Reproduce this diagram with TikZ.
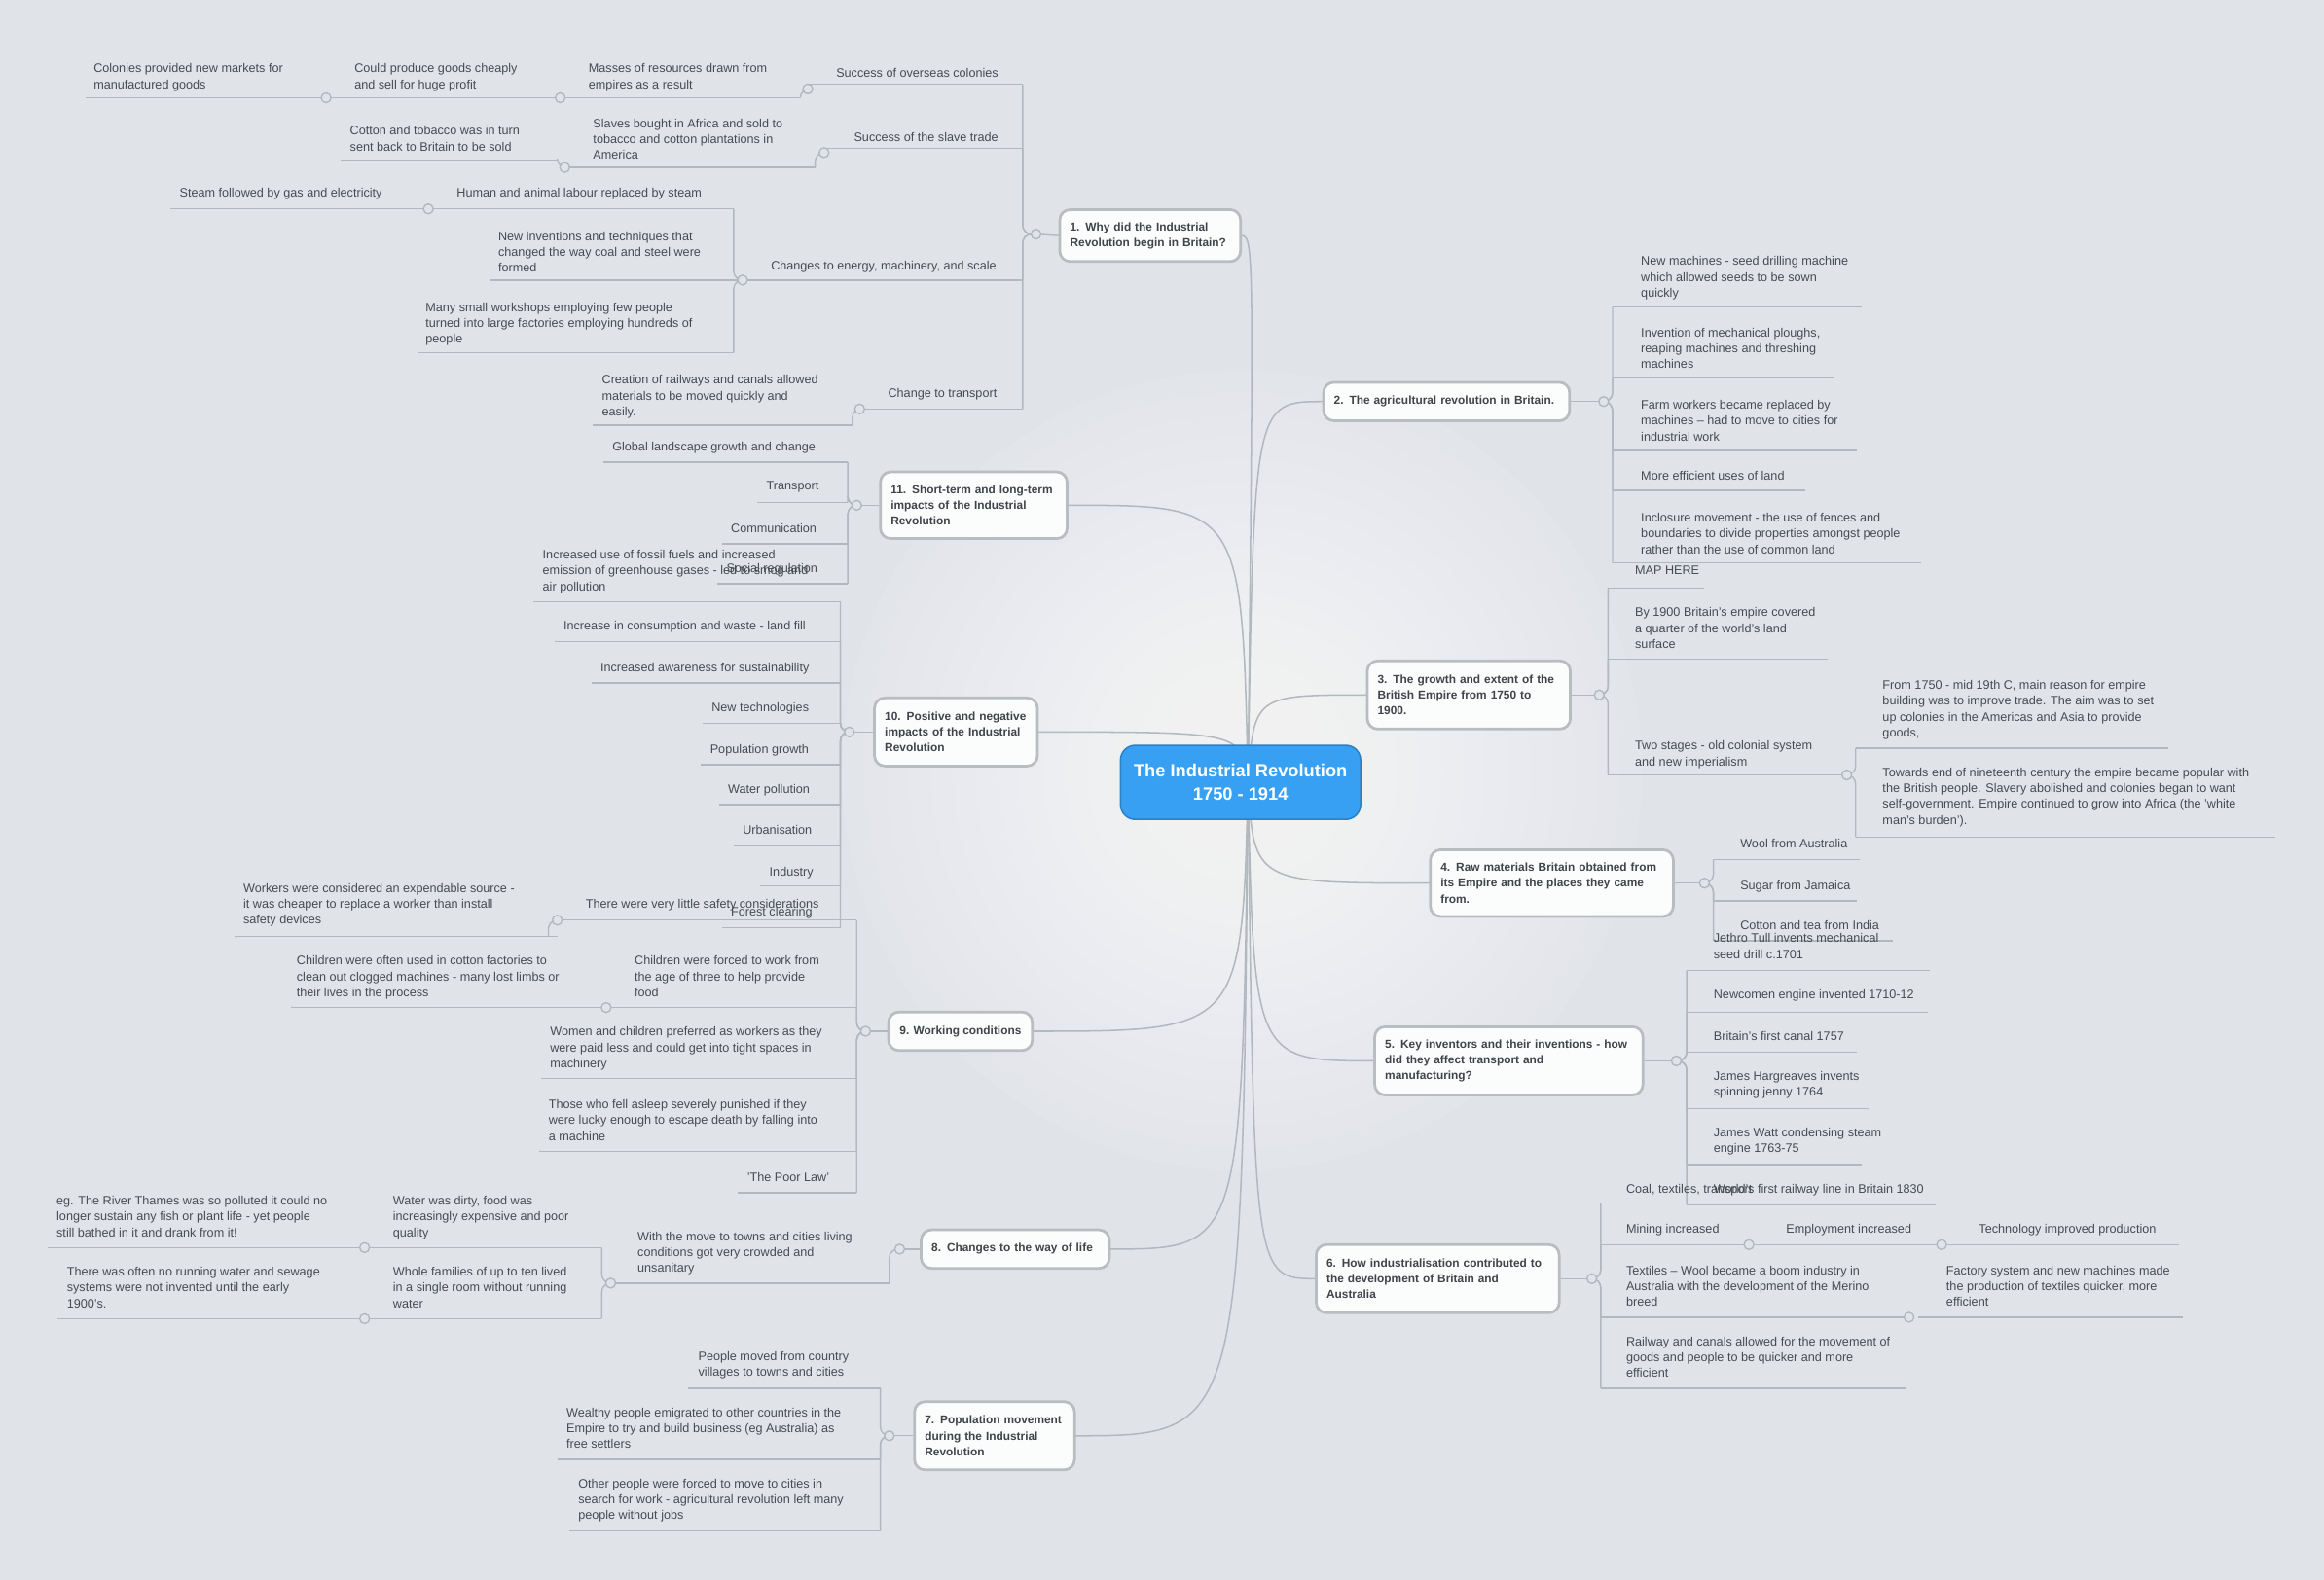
\documentclass[tikz,border=0pt]{standalone}
\usepackage{fontspec}
\setmainfont{Liberation Sans}
\definecolor{bg}{HTML}{E0E4E9}
\definecolor{ln}{HTML}{B3B8BE}
\definecolor{tx}{HTML}{474C52}
\definecolor{tb}{HTML}{B9BDC2}
\definecolor{cb}{HTML}{38A0F2}
\tikzset{
 leaf/.style={anchor=north west,inner sep=0pt,align=left,text=tx,font=\fontsize{8.3}{10.7}\selectfont},
 lnst/.style={draw=ln,line width=0.9pt},
 conn/.style={draw=ln,line width=0.9pt,rounded corners=6pt},
 main/.style={draw=ln,line width=1pt},
 topic/.style={draw=tb,line width=1.8pt,fill=white!70!bg!40!white,rounded corners=7pt,align=left,text=tx!90!black,font=\bfseries\fontsize{7.8}{10.7}\selectfont,inner sep=0pt},
 jn/.style={draw=ln,fill=bg,line width=0.9pt}
}
\newcommand\lf[6]{\node[leaf] at (#1,#2-2) {#3}; \draw[lnst] (#4,#6) -- (#5,#6);}
\newcommand\jn[2]{\draw[jn] (#1,#2) circle (3.3);}
\newcommand\cn[4]{\draw[conn] (#1,#2) -| (#3,#4);}
\begin{document}
\begin{tikzpicture}[x=1pt,y=-1pt]
\fill[bg] (0,0) rectangle (1568,1066);
\useasboundingbox (0,0) rectangle (1568,1066);
\foreach \r in {270,255,...,15} {\fill[white,opacity=0.07] (838,520) circle (\r);}
% main connectors
\coordinate (c) at (842,528);
\foreach \tx/\ty in {837/159,893/271,923/469,965/596,928/716,888/863}
  {\draw[main] (c) .. controls (846,\ty) .. (\tx,\ty);}
\foreach \tx/\ty in {720/341,700/494,697/696,749/843,725/969}
  {\draw[main] (c) .. controls (838,\ty) .. (\tx,\ty);}
% center
\node[draw=cb!80!black,line width=1pt,fill=cb,rounded corners=10pt,minimum width=162pt,minimum height=50pt,text=white,align=center,font=\bfseries\fontsize{12}{15.5}\selectfont] (center) at (837,528) {The Industrial Revolution\\1750 - 1914};
% topics
\node[topic,minimum width=122pt,minimum height=35pt,text width=108pt] (t1) at (776,159) {1. Why did the Industrial\\Revolution begin in Britain?};
\node[topic,minimum width=166pt,minimum height=26pt,text width=152pt] (t2) at (976,271) {2. The agricultural revolution in Britain.};
\node[topic,minimum width=137pt,minimum height=46pt,text width=123pt] (t3) at (991,469) {3. The growth and extent of the\\British Empire from 1750 to\\1900.};
\node[topic,minimum width=164pt,minimum height=45pt,text width=150pt] (t4) at (1047,596) {4. Raw materials Britain obtained from\\its Empire and the places they came\\from.};
\node[topic,minimum width=181pt,minimum height=46pt,text width=167pt] (t5) at (1018,716) {5. Key inventors and their inventions - how\\did they affect transport and\\manufacturing?};
\node[topic,minimum width=164pt,minimum height=46pt,text width=150pt] (t6) at (970,863) {6. How industrialisation contributed to\\the development of Britain and\\Australia};
\node[topic,minimum width=108pt,minimum height=46pt,text width=94pt] (t7) at (671,969) {7. Population movement\\during the Industrial\\Revolution};
\node[topic,minimum width=127pt,minimum height=26pt,text width=113pt] (t8) at (685,843) {8. Changes to the way of life};
\node[topic,minimum width=97pt,minimum height=26pt,align=center] (t9) at (648,696) {9. Working conditions};
\node[topic,minimum width=110pt,minimum height=46pt,text width=96pt] (t10) at (645,494) {10. Positive and negative\\impacts of the Industrial\\Revolution};
\node[topic,minimum width=126pt,minimum height=45pt,text width=112pt] (t11) at (657,341) {11. Short-term and long-term\\impacts of the Industrial\\Revolution};
% ---- topic 1
\draw[lnst] (t1.west) -- (699,158);
\cn{699}{158}{690}{57} \cn{699}{158}{690}{100} \cn{699}{158}{690}{189} \cn{699}{158}{690}{276}
\lf{564}{48}{Success of overseas colonies}{545}{690}{57}
\cn{545}{60}{540}{66}
\lf{397}{45}{Masses of resources drawn from\\empires as a result}{378}{540}{66}
\lf{239}{45}{Could produce goods cheaply\\and sell for huge profit}{220}{378}{66}
\lf{63}{45}{Colonies provided new markets for\\manufactured goods}{58}{220}{66}
\jn{545}{60}\jn{378}{66}\jn{220}{66}
\lf{576}{91}{Success of the slave trade}{556}{690}{100}
\cn{556}{103}{550}{113}
\lf{400}{82}{Slaves bought in Africa and sold to\\tobacco and cotton plantations in\\America}{381}{550}{113}
\cn{381}{113}{376}{108}
\lf{236}{87}{Cotton and tobacco was in turn\\sent back to Britain to be sold}{230}{376}{108}
\jn{556}{103}\jn{381}{113}
\lf{520}{178}{Changes to energy, machinery, and scale}{501}{690}{189}
\cn{501}{189}{495}{141}\cn{501}{189}{495}{238}
\lf{308}{129}{Human and animal labour replaced by steam}{289}{495}{141}
\lf{121}{129}{Steam followed by gas and electricity}{115}{289}{141}
\lf{336}{158}{New inventions and techniques that\\changed the way coal and steel were\\formed}{330}{501}{189}
\lf{287}{206}{Many small workshops employing few people\\turned into large factories employing hundreds of\\people}{282}{495}{238}
\jn{501}{189}\jn{289}{141}
\lf{599}{264}{Change to transport}{580}{690}{276}
\cn{580}{276}{575}{287}
\lf{406}{255}{Creation of railways and canals allowed\\materials to be moved quickly and\\easily.}{400}{575}{287}
\jn{580}{276}\jn{699}{158}
% ---- topic 2
\draw[lnst] (t2.east) -- (1082,271);
\foreach \y in {207,255,304,331,380} {\cn{1082}{271}{1088}{\y}}
\lf{1107}{175}{New machines - seed drilling machine\\which allowed seeds to be sown\\quickly}{1088}{1256}{207}
\lf{1107}{223}{Invention of mechanical ploughs,\\reaping machines and threshing\\machines}{1088}{1237}{255}
\lf{1107}{272}{Farm workers became replaced by\\machines -- had to move to cities for\\industrial work}{1088}{1253}{304}
\lf{1107}{320}{More efficient uses of land}{1088}{1218}{331}
\lf{1107}{348}{Inclosure movement - the use of fences and\\boundaries to divide properties amongst people\\rather than the use of common land}{1088}{1296}{380}
\jn{1082}{271}
% ---- topic 3
\draw[lnst] (t3.east) -- (1079,469);
\foreach \y in {397,445,523} {\cn{1079}{469}{1085}{\y}}
\lf{1103}{384}{MAP HERE}{1085}{1150}{397}
\lf{1103}{412}{By 1900 Britain's empire covered\\a quarter of the world's land\\surface}{1085}{1233}{445}
\lf{1103}{502}{Two stages - old colonial system\\and new imperialism}{1085}{1246}{523}
\cn{1246}{523}{1252}{505}\cn{1246}{523}{1252}{565}
\lf{1270}{461}{From 1750 - mid 19th C, main reason for empire\\building was to improve trade. The aim was to set\\up colonies in the Americas and Asia to provide\\goods,}{1252}{1463}{505}
\lf{1270}{520}{Towards end of nineteenth century the empire became popular with\\the British people. Slavery abolished and colonies began to want\\self-government. Empire continued to grow into Africa (the 'white\\man's burden').}{1252}{1535}{565}
\jn{1079}{469}\jn{1246}{523}
% ---- topic 4
\draw[lnst] (t4.east) -- (1150,596);
\foreach \y in {580,608,635} {\cn{1150}{596}{1156}{\y}}
\lf{1174}{568}{Wool from Australia}{1156}{1255}{580}
\lf{1174}{596}{Sugar from Jamaica}{1156}{1253}{608}
\lf{1174}{623}{Cotton and tea from India}{1156}{1277}{635}
\jn{1150}{596}
% ---- topic 5
\draw[lnst] (t5.east) -- (1131,716);
\foreach \y in {655,683,710,748,786,813} {\cn{1131}{716}{1138}{\y}}
\lf{1156}{632}{Jethro Tull invents mechanical\\seed drill c.1701}{1138}{1302}{655}
\lf{1156}{670}{Newcomen engine invented 1710-12}{1138}{1301}{683}
\lf{1156}{698}{Britain's first canal 1757}{1138}{1253}{710}
\lf{1156}{725}{James Hargreaves invents\\spinning jenny 1764}{1138}{1261}{748}
\lf{1156}{763}{James Watt condensing steam\\engine 1763-75}{1138}{1256}{786}
\lf{1156}{801}{World's first railway line in Britain 1830}{1138}{1306}{813}
\jn{1131}{716}
% ---- topic 6
\draw[lnst] (t6.east) -- (1074,863);
\foreach \y in {812,840,889,937} {\cn{1074}{863}{1080}{\y}}
\lf{1097}{801}{Coal, textiles, transport}{1080}{1185}{812}
\lf{1097}{828}{Mining increased}{1080}{1180}{840}
\lf{1205}{828}{Employment increased}{1180}{1310}{840}
\lf{1335}{828}{Technology improved production}{1310}{1470}{840}
\lf{1097}{856}{Textiles -- Wool became a boom industry in\\Australia with the development of the Merino\\breed}{1080}{1288}{889}
\lf{1313}{856}{Factory system and new machines made\\the production of textiles quicker, more\\efficient}{1294}{1473}{889}
\lf{1097}{904}{Railway and canals allowed for the movement of\\goods and people to be quicker and more\\efficient}{1080}{1286}{937}
\jn{1074}{863}\jn{1180}{840}\jn{1310}{840}\jn{1288}{889}
% ---- topic 7
\draw[lnst] (t7.west) -- (600,969);
\foreach \y in {937,985,1033} {\cn{600}{969}{594}{\y}}
\lf{471}{914}{People moved from country\\villages to towns and cities}{464}{594}{937}
\lf{382}{952}{Wealthy people emigrated to other countries in the\\Empire to try and build business (eg Australia) as\\free settlers}{376}{594}{985}
\lf{390}{1000}{Other people were forced to move to cities in\\search for work - agricultural revolution left many\\people without jobs}{384}{594}{1033}
\jn{600}{969}
% ---- topic 8
\draw[lnst] (t8.west) -- (607,843);
\cn{607}{843}{600}{866}
\lf{430}{833}{With the move to towns and cities living\\conditions got very crowded and\\unsanitary}{412}{600}{866}
\cn{412}{866}{406}{842}\cn{412}{866}{406}{890}
\lf{265}{809}{Water was dirty, food was\\increasingly expensive and poor\\quality}{246}{406}{842}
\lf{38}{809}{eg. The River Thames was so polluted it could no\\longer sustain any fish or plant life - yet people\\still bathed in it and drank from it!}{32}{246}{842}
\lf{265}{857}{Whole families of up to ten lived\\in a single room without running\\water}{246}{406}{890}
\lf{45}{857}{There was often no running water and sewage\\systems were not invented until the early\\1900's.}{39}{246}{890}
\jn{607}{843}\jn{412}{866}\jn{246}{842}\jn{246}{890}
% ---- topic 9
\draw[lnst] (t9.west) -- (584,696);
\foreach \y in {621,680,728,777,805} {\cn{584}{696}{578}{\y}}
\lf{395}{609}{There were very little safety considerations}{376}{578}{621}
\lf{164}{598}{Workers were considered an expendable source -\\it was cheaper to replace a worker than install\\safety devices}{158}{376}{632}
\lf{428}{647}{Children were forced to work from\\the age of three to help provide\\food}{409}{578}{680}
\lf{200}{647}{Children were often used in cotton factories to\\clean out clogged machines - many lost limbs or\\their lives in the process}{196}{409}{680}
\lf{371}{695}{Women and children preferred as workers as they\\were paid less and could get into tight spaces in\\machinery}{365}{578}{728}
\lf{370}{744}{Those who fell asleep severely punished if they\\were lucky enough to escape death by falling into\\a machine}{364}{578}{777}
\lf{504}{793}{'The Poor Law'}{498}{578}{805}
\cn{376}{621}{370}{632}
\jn{584}{696}\jn{376}{621}\jn{409}{680}
% ---- topic 10
\draw[lnst] (t10.west) -- (573,494);
\foreach \y in {406,433,461,488,516,543,571,598,626} {\cn{573}{494}{567}{\y}}
\lf{366}{373}{Increased use of fossil fuels and increased\\emission of greenhouse gases - led to smog and\\air pollution}{360}{567}{406}
\lf{380}{421}{Increase in consumption and waste - land fill}{374}{567}{433}
\lf{405}{449}{Increased awareness for sustainability}{399}{567}{461}
\lf{480}{476}{New technologies}{474}{567}{488}
\lf{479}{504}{Population growth}{473}{567}{516}
\lf{491}{531}{Water pollution}{485}{567}{543}
\lf{501}{559}{Urbanisation}{495}{567}{571}
\lf{519}{587}{Industry}{513}{567}{598}
\lf{493}{614}{Forest clearing}{487}{567}{626}
\jn{573}{494}
% ---- topic 11
\draw[lnst] (t11.west) -- (578,341);
\foreach \y in {312,339,367,394} {\cn{578}{341}{572}{\y}}
\lf{413}{300}{Global landscape growth and change}{407}{572}{312}
\lf{517}{327}{Transport}{511}{572}{339}
\lf{493}{355}{Communication}{487}{572}{367}
\lf{490}{382}{Social regulation}{484}{572}{394}
\jn{578}{341}
\end{tikzpicture}
\end{document}
